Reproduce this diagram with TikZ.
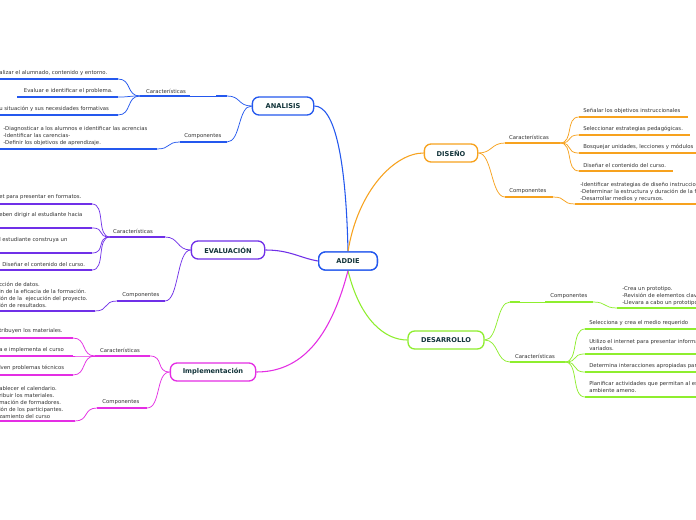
\documentclass[tikz,border=0pt]{standalone}
\usepackage{fontspec}
\setmainfont{DejaVu Sans}
\definecolor{cA}{HTML}{2458EE}
\definecolor{cD}{HTML}{F7A21E}
\definecolor{cE}{HTML}{7030E8}
\definecolor{cR}{HTML}{8EEE2E}
\definecolor{cI}{HTML}{E42EE4}
\definecolor{tx}{HTML}{333333}
\definecolor{tm}{HTML}{12343A}
\tikzset{
 lf/.style={font=\fontsize{4.0}{5.2}\selectfont, text=tx, inner sep=0pt, align=left},
 mainbox/.style={draw=#1, line width=1pt, rounded corners=5pt, fill=white, font=\fontsize{5}{5.5}\selectfont\bfseries, text=tm, minimum height=13.5pt, inner sep=2pt},
 ul/.style={#1, line width=1.2pt},
 cv/.style={#1, line width=0.55pt},
}
\newcommand{\cur}[3]{\draw[cv=#1] (#2) .. controls +(14,0) and +(-14,0) .. (#3);}
\begin{document}
\begin{tikzpicture}[x=0.75pt,y=-0.75pt]
\clip (0,0) rectangle (696,520);
\fill[white] (0,0) rectangle (696,520);
% main nodes
\node[mainbox=cA, minimum width=44pt] (addie) at (348,261) {ADDIE};
\node[mainbox=cA, minimum width=46pt] (ana) at (283,106) {ANALISIS};
\node[mainbox=cD, minimum width=40pt] (dis) at (451,153) {DISEÑO};
\node[mainbox=cE, minimum width=55pt] (eva) at (228,250) {EVALUACIÓN};
\node[mainbox=cR, minimum width=57pt] (des) at (446,340) {DESARROLLO};
\node[mainbox=cI, minimum width=64pt] (imp) at (213,372) {Implementación};
% ADDIE links
\draw[cv=cA, line width=0.8pt] (addie.north) .. controls (346,160) and (335,106) .. (ana.east);
\draw[cv=cD, line width=0.8pt] (addie.north) .. controls (358,190) and (395,153) .. (dis.west);
\draw[cv=cE, line width=0.8pt] (addie.west) .. controls (300,258) and (290,250) .. (eva.east);
\draw[cv=cR, line width=0.8pt] (addie.south) .. controls (360,320) and (385,340) .. (des.west);
\draw[cv=cI, line width=0.8pt] (addie.south) .. controls (330,340) and (300,372) .. (imp.east);
\node[mainbox=cA, minimum width=44pt] at (348,261) {ADDIE};

% ---------- ANALISIS ----------
\node[lf] (aC) at (166,91) {Características};
\draw[ul=cA] (140,96) -- (190,96); \draw[cv=cA] (190,96) -- (216,96); \draw[ul=cA] (216,96) -- (227,96);
\coordinate (aCl) at (140,96); \coordinate (aCr) at (227,96);
\cur{cA}{aCr}{ana.west}
\node[lf,anchor=west] (a1) at (-1,73) {alizar el alumnado, contenido y entorno.};
\draw[ul=cA] (0,79) -- (118,79); \coordinate (a1r) at (118,79); \cur{cA}{a1r}{aCl}
\node[lf,anchor=east] (a2) at (113,91) {Evaluar e identificar el problema.};
\draw[ul=cA] (17,97) -- (118,97); \coordinate (a2r) at (118,97); \cur{cA}{a2r}{aCl}
\node[lf,anchor=west] (a3) at (-1,109) {u situación y sus necesidades formativas};
\draw[ul=cA] (0,115) -- (118,115); \coordinate (a3r) at (118,115); \cur{cA}{a3r}{aCl}
\node[lf] (aK) at (203,136) {Componentes};
\draw[ul=cA] (180,142) -- (227,142); \coordinate (aKl) at (180,142); \coordinate (aKr) at (227,142);
\cur{cA}{aKr}{ana.west}
\node[lf,anchor=north west] (a4) at (3,126) {-Diagnosticar a los alumnos e identificar las acrencias\\-Identificar las carencias-\\-Definir los objetivos de aprendizaje.};
\draw[ul=cA] (0,149) -- (157,149); \coordinate (a4r) at (157,149); \cur{cA}{a4r}{aKl}

% ---------- EVALUACION ----------
\node[lf] (eC) at (133,231) {Características};
\draw[ul=cE] (110,237) -- (165,237); \coordinate (eCl) at (110,237); \coordinate (eCr) at (165,237);
\cur{cE}{eCr}{eva.west}
\node[lf,anchor=west] (e1) at (-1,197) {et para presentar en formatos.};
\draw[ul=cE] (0,204) -- (92,204); \coordinate (e1r) at (92,204); \cur{cE}{e1r}{eCl}
\node[lf,anchor=west] (e2) at (-1,215) {eben dirigir al estudiante hacia};
\draw[ul=cE] (0,228) -- (92,228); \coordinate (e2r) at (92,228); \cur{cE}{e2r}{eCl}
\node[lf,anchor=west] (e3) at (-1,240) {l estudiante construya un};
\draw[ul=cE] (0,253) -- (92,253); \coordinate (e3r) at (92,253); \cur{cE}{e3r}{eCl}
\node[lf,anchor=west] (e4) at (2,264) {Diseñar el contenido del curso.};
\draw[ul=cE] (0,270) -- (92,270); \coordinate (e4r) at (92,270); \cur{cE}{e4r}{eCl}
\node[lf] (eK) at (141,295) {Componentes};
\draw[ul=cE] (117,301) -- (165,301); \coordinate (eKl) at (117,301); \coordinate (eKr) at (165,301);
\cur{cE}{eKr}{eva.west}
\node[lf,anchor=north west] (e5) at (-1,282) {cción de datos.\\in de la eficacia de la formación.\\ión de la\ \ ejecución del proyecto.\\ión de resultados.};
\draw[ul=cE] (0,311) -- (95,311); \coordinate (e5r) at (95,311); \cur{cE}{e5r}{eKl}

% ---------- IMPLEMENTACION ----------
\node[lf] (iC) at (120,350) {Características};
\draw[ul=cI] (95,356) -- (150,356); \coordinate (iCl) at (95,356); \coordinate (iCr) at (150,356);
\cur{cI}{iCr}{imp.west}
\node[lf,anchor=west] (i1) at (-1,331) {tribuyen los materiales.};
\draw[ul=cI] (0,338) -- (73,338); \coordinate (i1r) at (73,338); \cur{cI}{i1r}{iCl}
\node[lf,anchor=west] (i2) at (-1,350) {a e implementa el curso};
\draw[ul=cI] (0,356) -- (73,356); \coordinate (i2r) at (73,356); \cur{cI}{i2r}{iCl}
\node[lf,anchor=west] (i3) at (-1,368) {lven problemas técnicos};
\draw[ul=cI] (0,375) -- (73,375); \coordinate (i3r) at (73,375); \cur{cI}{i3r}{iCl}
\node[lf] (iK) at (121,402) {Componentes};
\draw[ul=cI] (97,408) -- (147,408); \coordinate (iKl) at (97,408); \coordinate (iKr) at (147,408);
\cur{cI}{iKr}{imp.west}
\node[lf,anchor=north west] (i4) at (-1,386) {ablecer el calendario.\\ribuir los materiales.\\mación de formadores.\\ión de los participantes.\\zamiento del curso};
\draw[ul=cI] (0,421) -- (75,421); \coordinate (i4r) at (75,421); \cur{cI}{i4r}{iKl}

% ---------- DISEÑO ----------
\node[lf] (dC) at (529,137) {Características};
\draw[ul=cD] (505,143) -- (560,143); \coordinate (dCl) at (505,143); \coordinate (dCr) at (560,143);
\cur{cD}{dis.east}{dCl}
\node[lf,anchor=west] (d1) at (583,111) {Señalar los objetivos instruccionales};
\draw[ul=cD] (579,117) -- (688,117); \coordinate (d1l) at (579,117); \cur{cD}{dCr}{d1l}
\node[lf,anchor=west] (d2) at (583,129) {Seleccionar estrategias pedagógicas.};
\draw[ul=cD] (579,135) -- (690,135); \coordinate (d2l) at (579,135); \cur{cD}{dCr}{d2l}
\node[lf,anchor=west] (d3) at (583,147) {Bosquejar unidades, lecciones y módulos};
\draw[ul=cD] (579,153) -- (696,153); \coordinate (d3l) at (579,153); \cur{cD}{dCr}{d3l}
\node[lf,anchor=west] (d4) at (583,165) {Diseñar el contenido del curso.};
\draw[ul=cD] (579,171) -- (673,171); \coordinate (d4l) at (579,171); \cur{cD}{dCr}{d4l}
\node[lf] (dK) at (528,191) {Componentes};
\draw[ul=cD] (505,197) -- (553,197); \coordinate (dKl) at (505,197); \coordinate (dKr) at (553,197);
\cur{cD}{dis.east}{dKl}
\node[lf,anchor=north west] (d5) at (580,182) {-Identificar estrategias de diseño instruccional.\\-Determinar la estructura y duración de la formación.\\-Desarrollar medios y recursos.};
\draw[ul=cD] (575,204) -- (696,204); \coordinate (d5l) at (575,204); \cur{cD}{dKr}{d5l}

% ---------- DESARROLLO ----------
\node[lf] (rK) at (569,296) {Componentes};
\draw[ul=cR] (510,302) -- (520,302); \draw[cv=cR] (520,302) -- (545,302); \draw[ul=cR] (545,302) -- (593,302);
\coordinate (rKl) at (510,302); \coordinate (rKr) at (593,302);
\cur{cR}{des.east}{rKl}
\node[lf,anchor=north west] (r1) at (622,286) {-Crea un prototipo.\\-Revisión de elementos clave.\\-Llevara a cabo un prototipo.};
\draw[ul=cR] (617,308) -- (696,308); \coordinate (r1l) at (617,308); \cur{cR}{rKr}{r1l}
\node[lf] (rC) at (535,356) {Características};
\draw[ul=cR] (510,362) -- (565,362); \coordinate (rCl) at (510,362); \coordinate (rCr) at (565,362);
\cur{cR}{des.east}{rCl}
\node[lf,anchor=west] (r2) at (589,323) {Selecciona y crea el medio requerido};
\draw[ul=cR] (585,329) -- (696,329); \coordinate (r2l) at (585,329); \cur{cR}{rCr}{r2l}
\node[lf,anchor=north west] (r3) at (589,339) {Utilizo el internet para presentar información en formatos\\variados.};
\draw[ul=cR] (585,354) -- (696,354); \coordinate (r3l) at (585,354); \cur{cR}{rCr}{r3l}
\node[lf,anchor=west] (r4) at (589,366) {Determina interacciones apropiadas para el estudiante.};
\draw[ul=cR] (585,372) -- (696,372); \coordinate (r4l) at (585,372); \cur{cR}{rCr}{r4l}
\node[lf,anchor=north west] (r5) at (589,381) {Planificar actividades que permitan al estudiante un\\ambiente ameno.};
\draw[ul=cR] (585,397) -- (696,397); \coordinate (r5l) at (585,397); \cur{cR}{rCr}{r5l}
\end{tikzpicture}
\end{document}
